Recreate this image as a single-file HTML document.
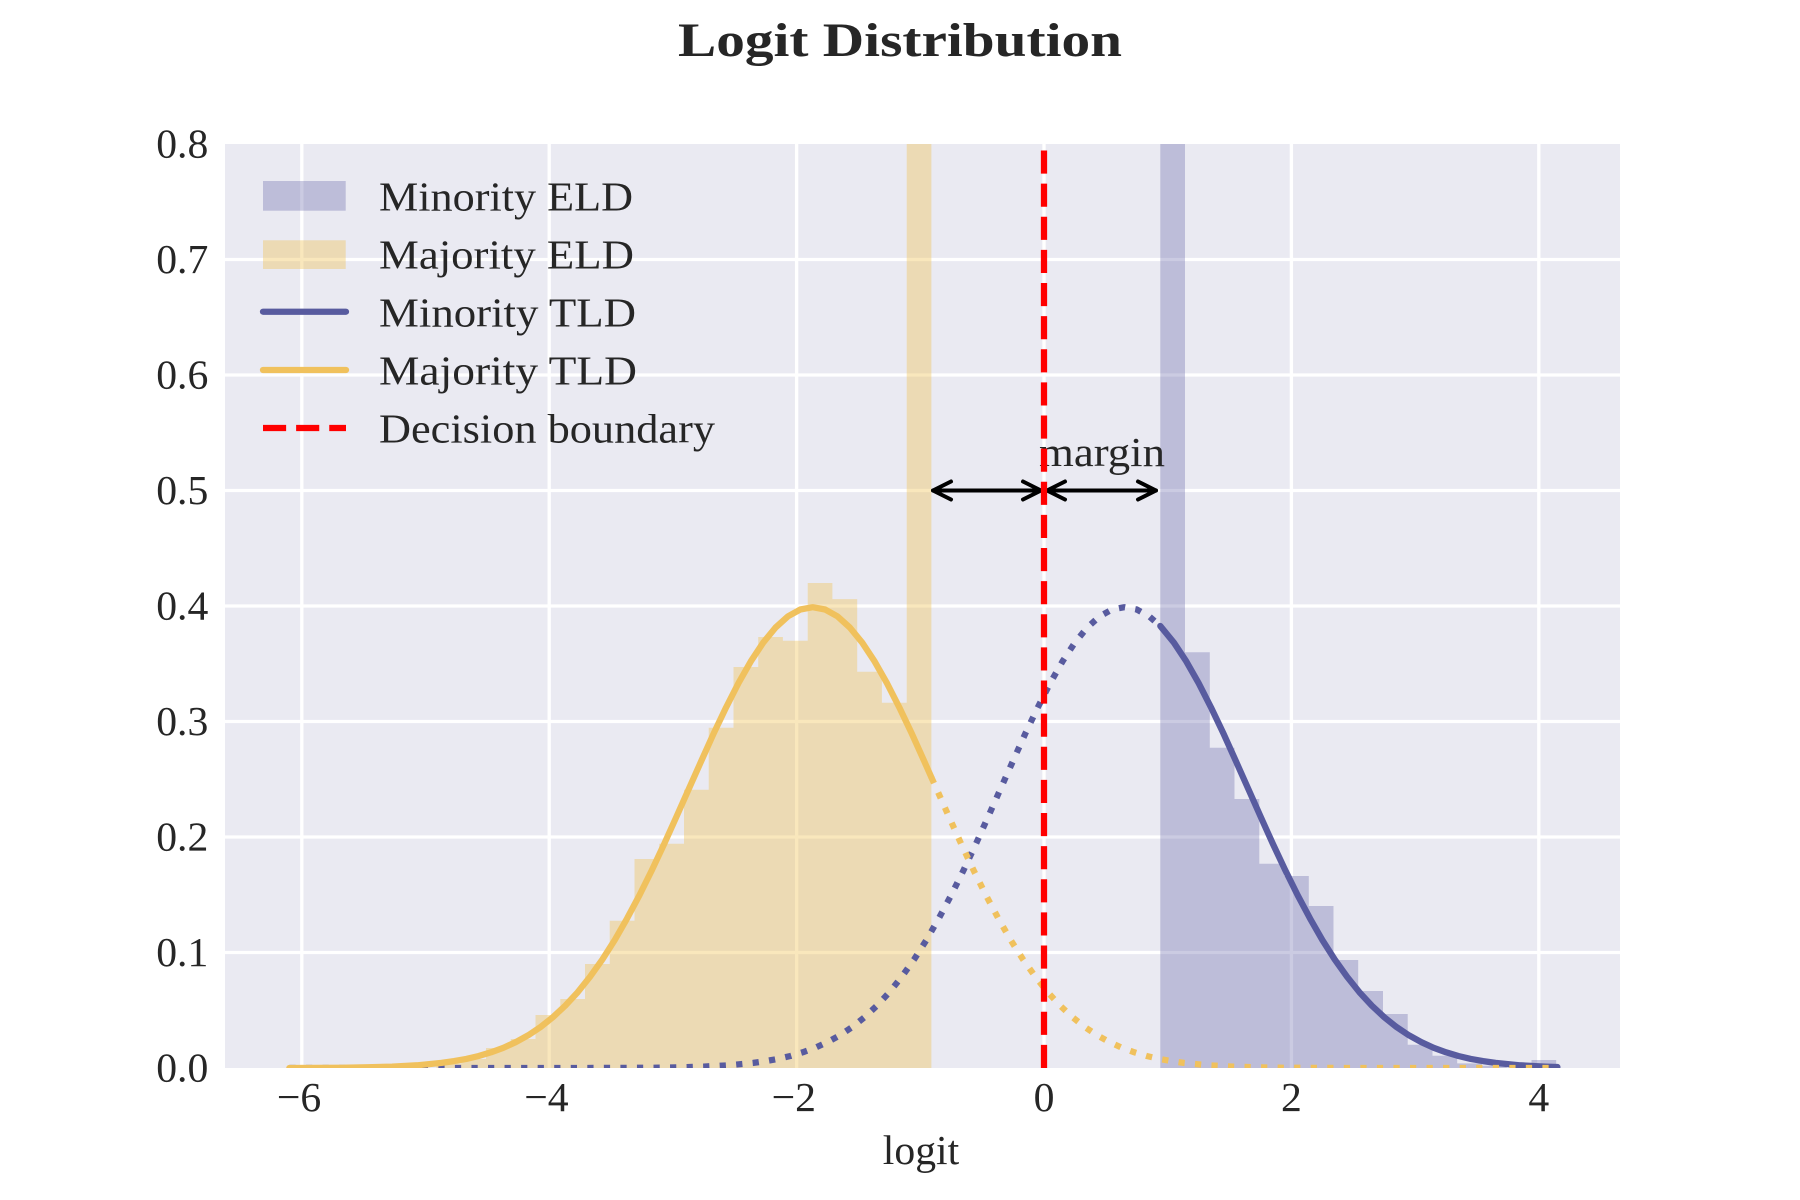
<!DOCTYPE html>
<html>
<head>
<meta charset="utf-8">
<style>
  html, body { margin: 0; padding: 0; background: #ffffff; }
  svg { display: block; }
  text { font-family: "Liberation Serif", "DejaVu Serif", serif; fill: #262626; }
</style>
</head>
<body>
<svg width="1800" height="1200" viewBox="0 0 1800 1200" xmlns="http://www.w3.org/2000/svg">
  <defs>
    <clipPath id="ax"><rect x="225" y="144" width="1395" height="924"/></clipPath>
    <clipPath id="axc"><rect x="286" y="144" width="1278" height="924"/></clipPath>
  </defs>

  <!-- Title -->
  <text x="900" y="56" font-size="48" font-weight="bold" text-anchor="middle" textLength="444" lengthAdjust="spacingAndGlyphs">Logit Distribution</text>

  <!-- Axes background -->
  <rect x="225" y="144" width="1395" height="924" fill="#EAEAF2"/>

  <!-- Grid -->
  <g stroke="#ffffff" stroke-width="3.33">
    <line x1="301.8" y1="144" x2="301.8" y2="1068"/>
    <line x1="549.2" y1="144" x2="549.2" y2="1068"/>
    <line x1="796.6" y1="144" x2="796.6" y2="1068"/>
    <line x1="1044" y1="144" x2="1044" y2="1068"/>
    <line x1="1291.4" y1="144" x2="1291.4" y2="1068"/>
    <line x1="1538.8" y1="144" x2="1538.8" y2="1068"/>
    <line x1="225" y1="952.5" x2="1620" y2="952.5"/>
    <line x1="225" y1="837" x2="1620" y2="837"/>
    <line x1="225" y1="721.5" x2="1620" y2="721.5"/>
    <line x1="225" y1="606" x2="1620" y2="606"/>
    <line x1="225" y1="490.5" x2="1620" y2="490.5"/>
    <line x1="225" y1="375" x2="1620" y2="375"/>
    <line x1="225" y1="259.5" x2="1620" y2="259.5"/>
  </g>

  <g clip-path="url(#ax)">
    <!-- Minority ELD histogram -->
    <path fill="rgb(105,105,171)" fill-opacity="0.35"
      d="M1160.3,1068 V144 H1185.0 V652.2 H1209.8 V747.7 H1234.5 V799 H1259.3 V863.7 H1284.0 V876 H1308.8 V906 H1333.5 V960 H1358.2 V991 H1383.0 V1014 H1407.7 V1044.7 H1432.5 V1055.7 H1457.2 V1063.4 H1482.0 V1065.7 H1506.7 V1068 H1531.5 V1060 H1556.2 V1068 Z"/>
    <!-- Majority ELD histogram -->
    <path fill="rgb(239,194,87)" fill-opacity="0.4"
      d="M436.5,1068 V1063.5 H461.3 V1059 H486.0 V1048 H510.8 V1039 H535.5 V1015 H560.3 V999 H585.0 V964 H609.7 V920.7 H634.5 V859 H659.2 V843.7 H684.0 V789.7 H708.7 V727.7 H733.5 V667 H758.2 V637 H782.9 V640.7 H807.7 V583 H832.4 V599.1 H857.2 V671.8 H881.9 V702.7 H906.7 V144 H931.4 V1068 Z"/>
  </g>

  <g clip-path="url(#ax)" fill="none">
    <!-- Minority TLD dotted -->
    <path transform="translate(1124.4,0)" stroke="#585b9f" stroke-width="6.25" stroke-dasharray="6.25 10.3" stroke-linecap="butt" stroke-linejoin="round"
      d="M-835,1068 L-556.7,1068 L-494.8,1067.85 L-470.1,1067.7 L-445.3,1067.3 L-420.6,1066.6 L-395.8,1065.3 L-371.1,1062.9 L-358.7,1061.1 L-346.4,1058.9 L-334,1056 L-321.6,1052.3 L-309.3,1047.8 L-296.9,1042.1 L-284.5,1035.3 L-272.1,1027 L-259.8,1017.2 L-247.4,1005.6 L-235,992.2 L-222.7,976.8 L-210.3,959.4 L-197.9,939.9 L-185.6,918.4 L-173.2,895.1 L-160.8,870.1 L-148.4,843.7 L-136.1,816.4 L-123.7,788.5 L-111.3,760.7 L-99,733.4 L-86.6,707.4 L-74.2,683.1 L-61.9,661.4 L-49.5,642.6 L-37.1,627.5 L-24.7,616.3 L-12.4,609.5 L0,607.2 L12.4,609.5 L24.7,616.3 L35.9,626"/>
    <!-- Minority TLD solid -->
    <path transform="translate(1124.4,0)" stroke="#585b9f" stroke-width="6.25" stroke-linecap="round" stroke-linejoin="round"
      d="M35.9,626 L37.1,627.5 L49.5,642.6 L61.9,661.4 L74.2,683.1 L86.6,707.4 L99,733.4 L111.3,760.7 L123.7,788.5 L136.1,816.4 L148.4,843.7 L160.8,870.1 L173.2,895.1 L185.6,918.4 L197.9,939.9 L210.3,959.4 L222.7,976.8 L235,992.2 L247.4,1005.6 L259.8,1017.2 L272.1,1027 L284.5,1035.3 L296.9,1042.1 L309.3,1047.8 L321.6,1052.3 L334,1056 L346.4,1058.9 L358.7,1061.1 L371.1,1062.9 L395.8,1065.3 L420.6,1066.6 L433,1067"/>
    <!-- Majority TLD solid -->
    <path transform="translate(812.7,0)" stroke="#f0c15d" stroke-width="6.25" stroke-linecap="round" stroke-linejoin="round"
      d="M-523.3,1067.95 L-494.8,1067.85 L-470.1,1067.7 L-445.3,1067.3 L-420.6,1066.6 L-395.8,1065.3 L-371.1,1062.9 L-358.7,1061.1 L-346.4,1058.9 L-334,1056 L-321.6,1052.3 L-309.3,1047.8 L-296.9,1042.1 L-284.5,1035.3 L-272.1,1027 L-259.8,1017.2 L-247.4,1005.6 L-235,992.2 L-222.7,976.8 L-210.3,959.4 L-197.9,939.9 L-185.6,918.4 L-173.2,895.1 L-160.8,870.1 L-148.4,843.7 L-136.1,816.4 L-123.7,788.5 L-111.3,760.7 L-99,733.4 L-86.6,707.4 L-74.2,683.1 L-61.9,661.4 L-49.5,642.6 L-37.1,627.5 L-24.7,616.3 L-12.4,609.5 L0,607.2 L12.4,609.5 L24.7,616.3 L37.1,627.5 L49.5,642.6 L61.9,661.4 L74.2,683.1 L86.6,707.4 L99,733.4 L111.3,760.7 L118.7,777.4"/>
    <!-- Majority TLD dotted -->
    <path transform="translate(812.7,0)" stroke="#f0c15d" stroke-width="6.25" stroke-dasharray="6.25 10.3" stroke-linecap="butt" stroke-linejoin="round"
      d="M118.7,777.4 L123.7,788.5 L136.1,816.4 L148.4,843.7 L160.8,870.1 L173.2,895.1 L185.6,918.4 L197.9,939.9 L210.3,959.4 L222.7,976.8 L235,992.2 L247.4,1005.6 L259.8,1017.2 L272.1,1027 L284.5,1035.3 L296.9,1042.1 L309.3,1047.8 L321.6,1052.3 L334,1056 L346.4,1058.9 L358.7,1061.1 L371.1,1062.9 L395.8,1065.3 L420.6,1066.6 L445.3,1067.3 L470.1,1067.7 L494.8,1067.85 L556.7,1068 L744.7,1068"/>
  </g>

  <!-- Arrows -->
  <g stroke="#000000" stroke-width="4" fill="none" stroke-linecap="round" stroke-linejoin="round">
    <line x1="933" y1="490.5" x2="1041" y2="490.5"/>
    <polyline points="951,481.5 933,490.5 951,499.5"/>
    <polyline points="1023,481.5 1041,490.5 1023,499.5"/>
    <line x1="1047" y1="490.5" x2="1156" y2="490.5"/>
    <polyline points="1065,481.5 1047,490.5 1065,499.5"/>
    <polyline points="1138,481.5 1156,490.5 1138,499.5"/>
  </g>
  <text x="1102" y="466" font-size="41.7" text-anchor="middle" textLength="126" lengthAdjust="spacingAndGlyphs">margin</text>

  <!-- Decision boundary -->
  <line x1="1044" y1="1068" x2="1044" y2="144" stroke="#ff0000" stroke-width="6.25" stroke-dasharray="23.125 10" stroke-linecap="butt"/>

  <!-- Legend -->
  <rect x="263" y="181" width="82.7" height="29.7" fill="rgb(105,105,171)" fill-opacity="0.35"/>
  <rect x="263" y="240.3" width="82.7" height="28.7" fill="rgb(239,194,87)" fill-opacity="0.4"/>
  <line x1="263" y1="311.7" x2="346" y2="311.7" stroke="#585b9f" stroke-width="6.25" stroke-linecap="round"/>
  <line x1="263" y1="370" x2="346" y2="370" stroke="#f0c15d" stroke-width="6.25" stroke-linecap="round"/>
  <line x1="263" y1="428" x2="346" y2="428" stroke="#ff0000" stroke-width="6.25" stroke-dasharray="23.125 10" stroke-linecap="butt"/>
  <g font-size="41.7">
    <text x="379" y="210.7" textLength="254" lengthAdjust="spacingAndGlyphs">Minority ELD</text>
    <text x="379" y="268.7" textLength="255" lengthAdjust="spacingAndGlyphs">Majority ELD</text>
    <text x="379" y="326.6" textLength="257" lengthAdjust="spacingAndGlyphs">Minority TLD</text>
    <text x="379" y="384.6" textLength="258" lengthAdjust="spacingAndGlyphs">Majority TLD</text>
    <text x="379" y="442.5" textLength="336" lengthAdjust="spacingAndGlyphs">Decision boundary</text>
  </g>

  <!-- Y tick labels -->
  <g font-size="41.7" text-anchor="end">
    <text x="208.3" y="1081.7">0.0</text>
    <text x="208.3" y="966.2">0.1</text>
    <text x="208.3" y="850.7">0.2</text>
    <text x="208.3" y="735.2">0.3</text>
    <text x="208.3" y="619.7">0.4</text>
    <text x="208.3" y="504.2">0.5</text>
    <text x="208.3" y="388.7">0.6</text>
    <text x="208.3" y="273.2">0.7</text>
    <text x="208.3" y="157.7">0.8</text>
  </g>

  <!-- X tick labels -->
  <g font-size="41.7" text-anchor="middle">
    <text x="299" y="1111">−6</text>
    <text x="546.4" y="1111">−4</text>
    <text x="793.8" y="1111">−2</text>
    <text x="1044" y="1111">0</text>
    <text x="1291.4" y="1111">2</text>
    <text x="1538.8" y="1111">4</text>
  </g>

  <!-- X label -->
  <text x="921" y="1164" font-size="41.7" text-anchor="middle">logit</text>
</svg>
</body>
</html>
